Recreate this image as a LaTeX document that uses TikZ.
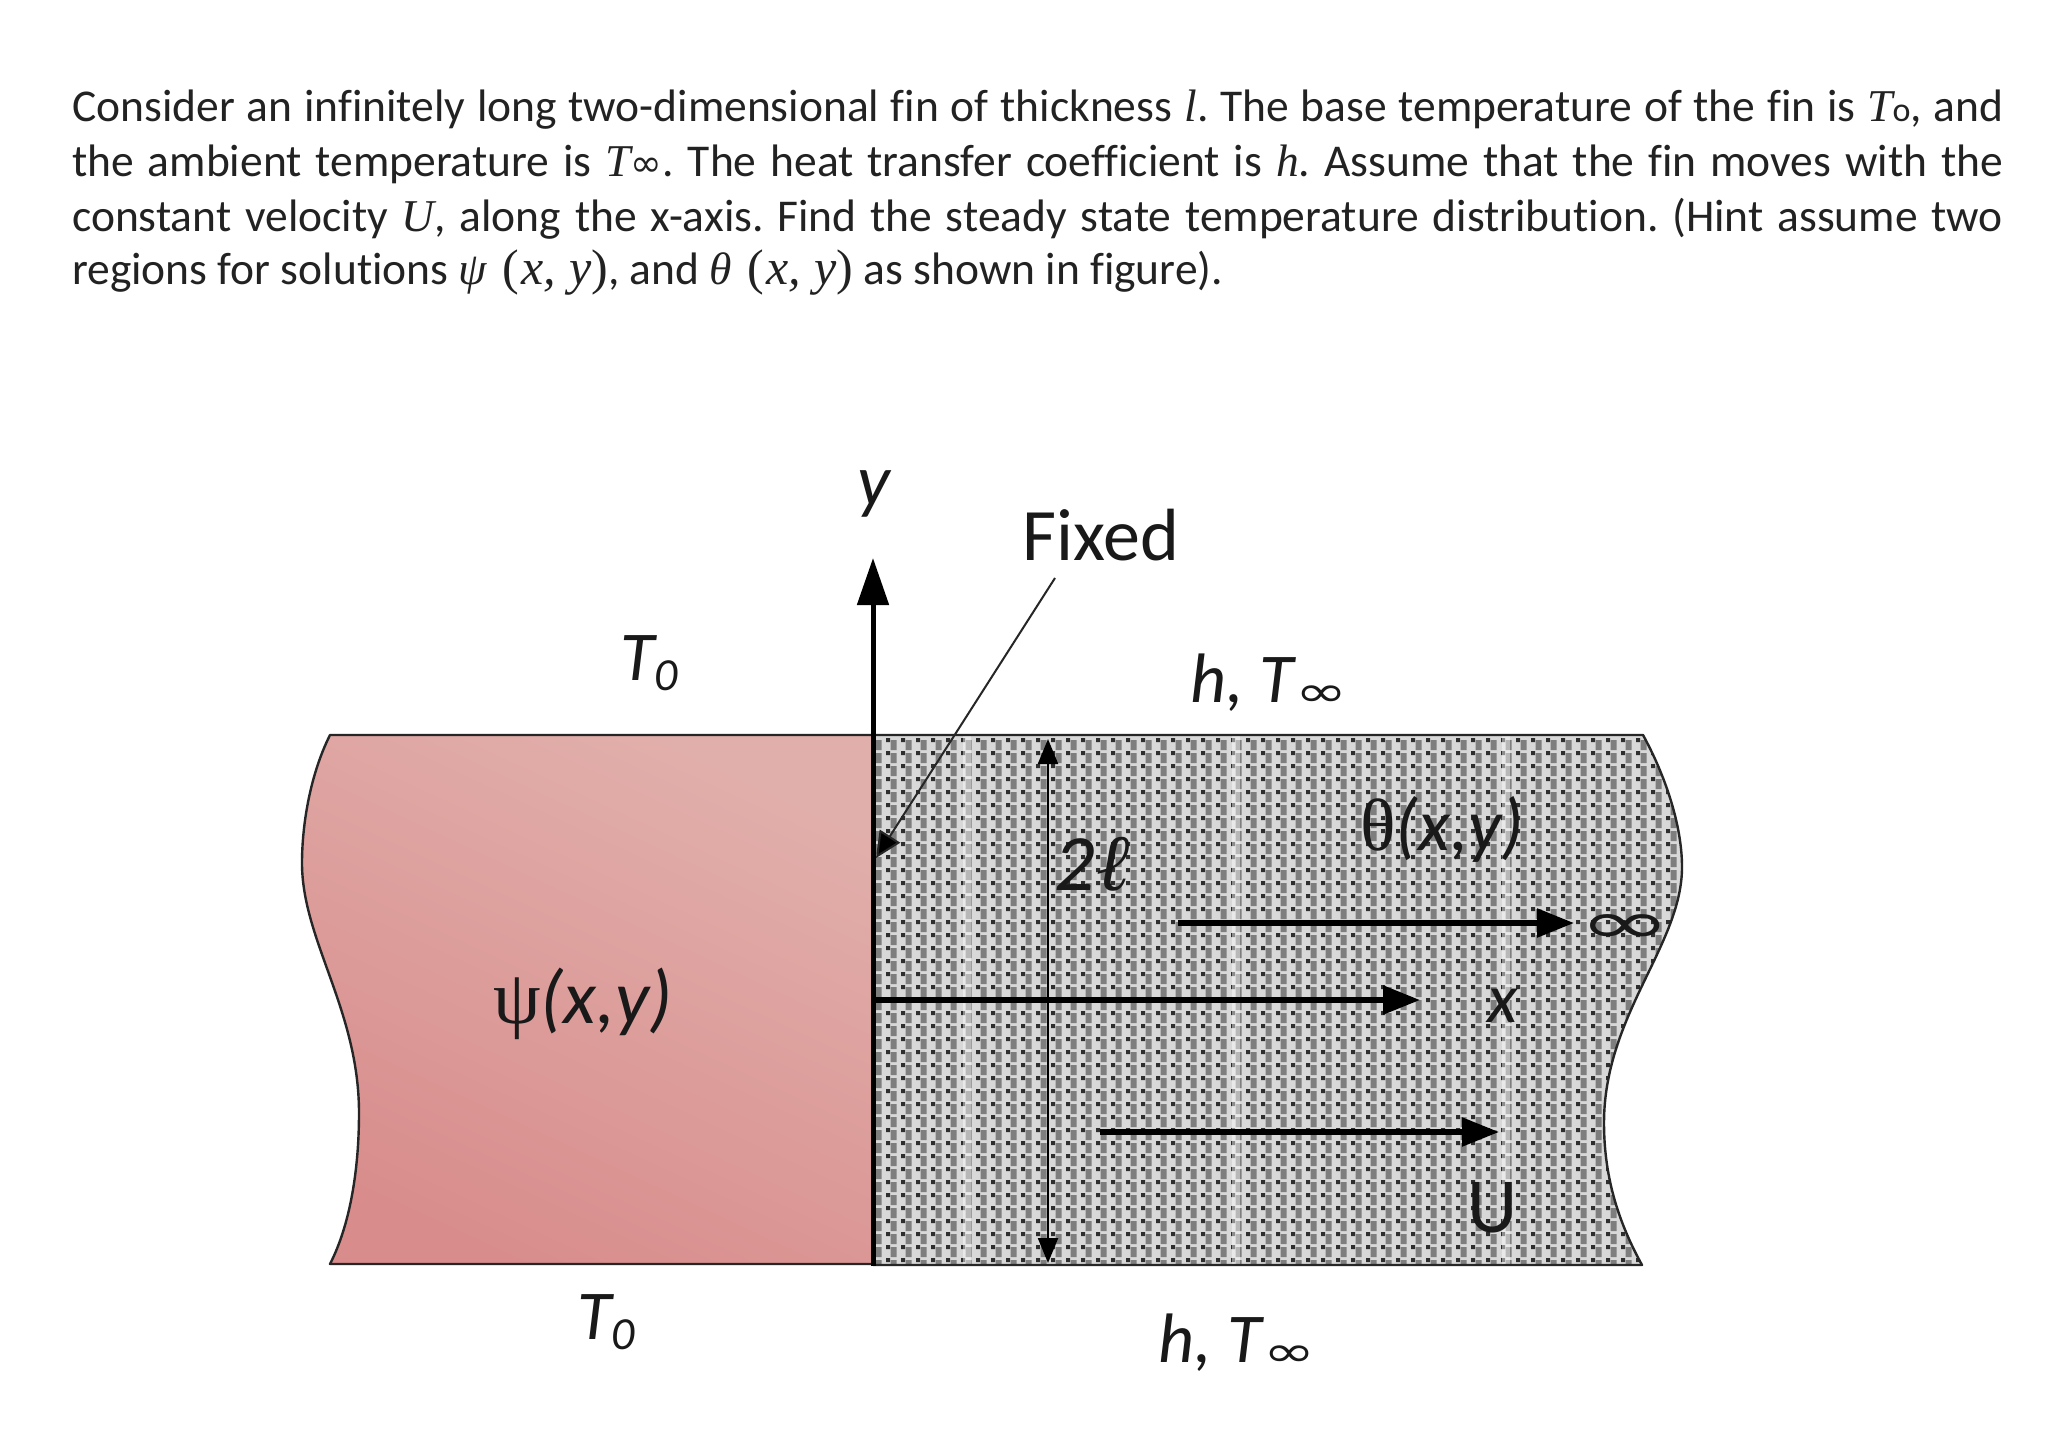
\documentclass[tikz,border=0pt]{standalone}
\usepackage{graphicx}
\usepackage{fontspec}
\setmainfont[Ligatures=NoCommon]{Carlito}
\newfontfamily\mathserif{Liberation Serif}
\newfontfamily\symfont{DejaVu Sans}
\usetikzlibrary{arrows.meta}
\definecolor{inkbody}{HTML}{222222}
\definecolor{pinklight}{HTML}{E1AFAB}
\definecolor{pinkdark}{HTML}{D88D8C}
\definecolor{tileback}{HTML}{D8D8D8}
\definecolor{tilebar}{HTML}{7E7E7E}
\definecolor{tiledot}{HTML}{2E2E2E}
\newcommand{\mi}[1]{{\mathserif\itshape #1}}
\newcommand{\bodyline}[1]{\hbox to 1931pt{#1}}
\newcommand{\xycoord}{{\fontsize{50}{50}\selectfont\mathserif(\kern3pt\mi{x,\kern13pt y})}}
\tikzset{
  bodytext/.style={anchor=base west,inner sep=0pt,text=inkbody,font=\fontsize{45.5}{50}\selectfont},
  figlabel/.style={anchor=base west,inner sep=0pt,text=black!90,font=\fontsize{70}{80}\selectfont},
  thickarrow/.style={line width=5.5pt,-{Triangle[length=37pt,width=28pt]}},
  axisarrow/.style={line width=5pt,-{Triangle[length=47pt,width=31pt]}},
  outline/.style={draw=black!85,line width=2.4pt}
}
\begin{document}
\begin{tikzpicture}[x=1pt,y=-1pt]
\useasboundingbox (0,0) rectangle (2046,1440);
\fill[white] (0,0) rectangle (2046,1440);
% body text
\node[bodytext] (line1) at (72,121) {\bodyline{Consider\hfill an\hfill infinitely\hfill long\hfill two-dimensional\hfill fin\hfill of\hfill thickness\hfill \mi{l}.\hfill The\hfill base\hfill temperature\hfill of\hfill the\hfill fin\hfill is\hfill \mi{T}{\fontsize{34}{34}\selectfont o},\hfill and}};
\node[bodytext] (line2) at (72,176) {\bodyline{the\hfill ambient\hfill temperature\hfill is\hfill \mi{T}{\fontsize{38}{38}\selectfont\symfont ∞}.\hfill The\hfill heat\hfill transfer\hfill coefficient\hfill is\hfill \mi{h}.\hfill Assume\hfill that\hfill the\hfill fin\hfill moves\hfill with\hfill the}};
\node[bodytext] (line3) at (72,231) {\bodyline{constant\hfill velocity\hfill \mi{U},\hfill along\hfill the\hfill x-axis.\hfill Find\hfill the\hfill steady\hfill state\hfill temperature\hfill distribution.\hfill (Hint\hfill assume\hfill two}};
\node[bodytext] (line4) at (72,284) {regions for solutions \mi{ψ}\kern15pt\xycoord, and \mi{θ}\kern15pt\xycoord\ as shown in figure).};
% left region
\shade[top color=pinklight,bottom color=pinkdark,shading angle=-25]
  (330,735) .. controls (310,775) and (302,825) .. (302,863)
  .. controls (302,940) and (359,1010) .. (359,1113)
  .. controls (359,1170) and (350,1225) .. (330,1264)
  -- (873,1264) -- (873,735) -- cycle;
% right region with dotted texture
\begin{scope}
\clip (873,735) -- (1643,735)
  .. controls (1665,775) and (1682,825) .. (1682,867)
  .. controls (1682,945) and (1604,1015) .. (1604,1123)
  .. controls (1604,1180) and (1620,1225) .. (1642,1265)
  -- (873,1265) -- cycle;
\fill[tileback] (873,735) rectangle (1690,1265);
\fill[tilebar] \foreach \i in {0,...,54} {\foreach \j in {0,...,40} {
  ({875.5+\i*15},{740+\j*13}) rectangle ++(6,10)}};
\fill[tiledot] \foreach \i in {0,...,54} {\foreach \j in {0,...,40} {
  ({886+\i*15},{738+\j*13}) rectangle ++(4,4)}};
\fill[white,opacity=.45] (963,735) rectangle (971,1265);
\fill[white,opacity=.45] (1232,735) rectangle (1240,1265);
\fill[white,opacity=.45] (1502,735) rectangle (1510,1265);
\end{scope}
% outlines
\draw[outline,line join=round]
  (873,735) -- (330,735) .. controls (310,775) and (302,825) .. (302,863)
  .. controls (302,940) and (359,1010) .. (359,1113)
  .. controls (359,1170) and (350,1225) .. (330,1264) -- (873,1264);
\draw[outline,line join=round]
  (873,735) -- (1643,735)
  .. controls (1665,775) and (1682,825) .. (1682,867)
  .. controls (1682,945) and (1604,1015) .. (1604,1123)
  .. controls (1604,1180) and (1620,1225) .. (1642,1265) -- (873,1265);
% coordinates of connector ends
\coordinate (origin) at (873,1000);
\coordinate (ybase) at (873,1266);
\coordinate (ytip) at (873,558);
\coordinate (xtip) at (1420,1000);
\coordinate (inftail) at (1178,923);
\coordinate (inftip) at (1574,923);
\coordinate (utail) at (1100,1132);
\coordinate (utip) at (1499,1132);
\coordinate (gaptop) at (1048,739);
\coordinate (gapbot) at (1048,1263);
\coordinate (fixedtail) at (1055,578);
\coordinate (fixedtip) at (876,858);
% connectors
\draw[axisarrow] (ybase) -- (ytip);
\draw[thickarrow] (origin) -- (xtip);
\draw[thickarrow] (inftail) -- (inftip);
\draw[thickarrow] (utail) -- (utip);
\draw[line width=2.2pt,{Triangle[length=25pt,width=20pt]}-{Triangle[length=25pt,width=20pt]}] (gaptop) -- (gapbot);
\draw[line width=2pt,black!85,-{Triangle[length=26pt,width=24pt,fill=black]}] (fixedtail) -- (fixedtip);
% labels
\node[figlabel,font=\fontsize{73}{80}\selectfont] (ylab) at (857,505) {\itshape y};
\node[figlabel,font=\fontsize{74}{80}\selectfont] (fixed) at (1022,560) {Fixed};
\node[figlabel] (t0top) at (620,680) {\itshape T\raisebox{-10pt}{\fontsize{46}{46}\selectfont 0}};
\node[figlabel] (t0bot) at (577,1339) {\itshape T\raisebox{-10pt}{\fontsize{46}{46}\selectfont 0}};
\node[figlabel] (htop) at (1190,702) {\itshape h, T\kern2pt\raisebox{-4pt}{\scalebox{1.25}[0.85]{\fontsize{50}{50}\selectfont\symfont ∞}}};
\node[figlabel] (hbot) at (1158,1362) {\itshape h, T\kern2pt\raisebox{-4pt}{\scalebox{1.25}[0.85]{\fontsize{50}{50}\selectfont\symfont ∞}}};
\node[figlabel,font=\fontsize{76}{80}\selectfont] (psi) at (493,1023) {{\mathserif ψ}\itshape (x,y)};
\node[figlabel,font=\fontsize{74}{80}\selectfont] (theta) at (1360,850) {{\mathserif θ}\itshape (x,y)};
\node[figlabel,font=\fontsize{80}{80}\selectfont] (twol) at (1054,890) {\itshape 2\kern2pt{\mathserif ℓ}};
\node[figlabel,font=\fontsize{70}{70}\selectfont] (inf) at (1578,943) {\scalebox{1.6}[0.85]{\symfont ∞}};
\node[figlabel] (xlab) at (1487,1022) {\itshape x};
\node[figlabel,font=\fontsize{78}{80}\selectfont] (ulab) at (1467,1232) {U};
\end{tikzpicture}
\end{document}
